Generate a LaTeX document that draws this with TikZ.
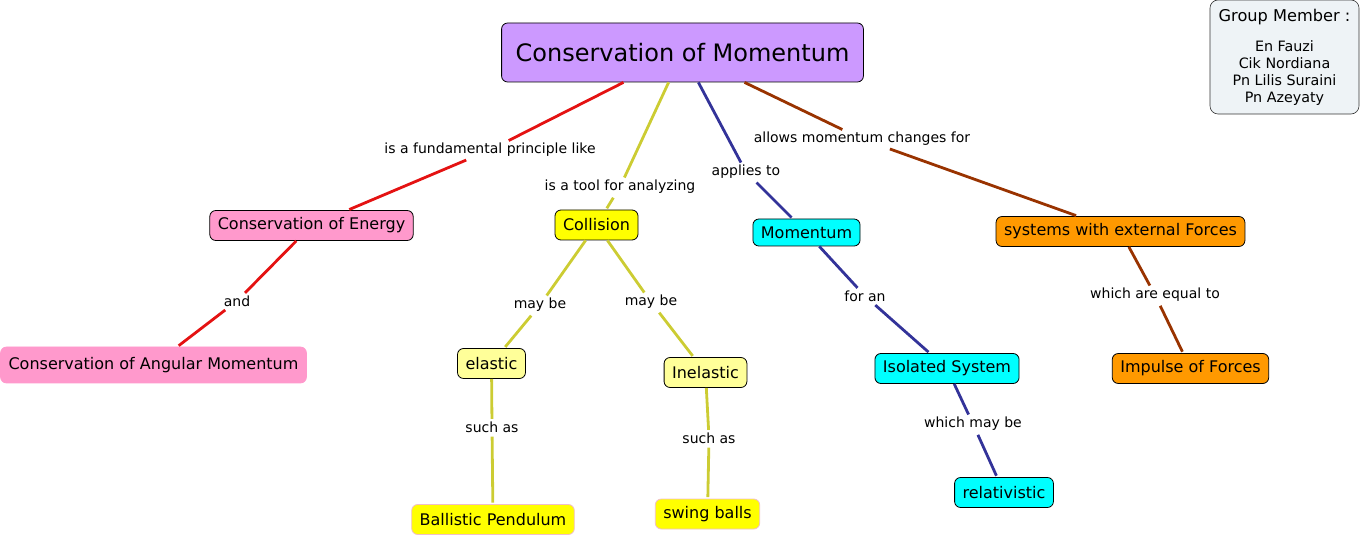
\documentclass[tikz,border=0pt]{standalone}
\usepackage{fontspec}
\setmainfont{DejaVu Sans}
\definecolor{mompurple}{RGB}{204, 153, 255}
\definecolor{energypink}{RGB}{255, 153, 204}
\definecolor{collyellow}{RGB}{255, 255, 0}
\definecolor{paleyellow}{RGB}{255, 255, 153}
\definecolor{momcyan}{RGB}{0, 255, 255}
\definecolor{forceorange}{RGB}{255, 153, 0}
\definecolor{groupgray}{RGB}{238, 243, 246}
\definecolor{linkred}{RGB}{228, 18, 18}
\definecolor{linkolive}{RGB}{204, 204, 51}
\definecolor{linkblue}{RGB}{51, 51, 153}
\definecolor{linkbrown}{RGB}{153, 51, 0}
\definecolor{softborder}{RGB}{240, 190, 200}
\usetikzlibrary{
    shapes.misc,
    positioning,
    calc
}
\tikzset{
    concept/.style={draw=black, line width=0.8pt, rounded corners=6pt,
        font=\fontsize{16}{19}\selectfont, inner xsep=8pt,
        minimum height=30pt},
    linklabel/.style={font=\fontsize{14}{17}\selectfont, inner sep=2.5pt,
        fill=white},
    link/.style={line width=2.8pt, shorten <=1.5pt, shorten >=1.5pt}
}

\begin{document}
\begin{tikzpicture}[x=1pt, y=-1pt]
            \useasboundingbox (0,0) rectangle (1361,537);

            % Main concept
            \node[concept, fill=mompurple, font=\fontsize{24}{28}\selectfont,
                inner xsep=14pt, minimum height=59pt] (cons) at (682.5,52.5)
                {Conservation of Momentum};

            % Group members
            \node[draw=black!80, line width=0.6pt, fill=groupgray, rounded corners=8pt,
                minimum width=149pt, minimum height=114pt, align=center,
                font=\fontsize{14.3}{17}\selectfont] (group) at (1284.5,57)
                {{\fontsize{16.2}{19}\selectfont Group Member :}\\[13pt]
                 En Fauzi\\ Cik Nordiana\\ Pn Lilis Suraini\\ Pn Azeyaty};

            % Energy branch
            \node[concept, fill=energypink] (energy) at (311.5,225.5)
                {Conservation of Energy};
            \node[concept, fill=energypink, draw=energypink, minimum height=36pt]
                (angular) at (153.5,365) {Conservation of Angular Momentum};
            \node[linklabel] (likelbl) at (490,150) {is a fundamental principle like};
            \node[linklabel] (andlbl) at (237,301) {and};
            \draw[link, linkred] (cons) -- (likelbl) -- (energy);
            \draw[link, linkred] (energy) -- (andlbl) -- (angular);

            % Collision branch
            \node[concept, fill=collyellow] (collision) at (596.5,225) {Collision};
            \node[concept, fill=paleyellow] (elastic) at (491.5,363.5) {elastic};
            \node[concept, fill=paleyellow] (inelastic) at (705.5,372.5) {Inelastic};
            \node[concept, fill=collyellow, draw=softborder] (pendulum) at (493,519.5)
                {Ballistic Pendulum};
            \node[concept, fill=collyellow, draw=softborder] (swing) at (707.5,514)
                {swing balls};
            \node[linklabel] (toollbl) at (620,187) {is a tool for analyzing};
            \node[linklabel] (maybeA) at (540,305) {may be};
            \node[linklabel] (maybeB) at (651,302) {may be};
            \node[linklabel] (suchA) at (492,427) {such as};
            \node[linklabel] (suchB) at (709,438) {such as};
            \draw[link, linkolive] (cons) -- (toollbl) -- (collision);
            \draw[link, linkolive] (collision) -- (maybeA) -- (elastic);
            \draw[link, linkolive] (collision) -- (maybeB) -- (inelastic);
            \draw[link, linkolive] (elastic) -- (suchA) -- (pendulum);
            \draw[link, linkolive] (inelastic) -- (suchB) -- (swing);

            % Momentum branch
            \node[concept, fill=momcyan, minimum height=27pt] (momentum) at (806.5,232.5)
                {Momentum};
            \node[concept, fill=momcyan] (isolated) at (947,368.5) {Isolated System};
            \node[concept, fill=momcyan] (relativ) at (1004,492.5) {relativistic};
            \node[linklabel] (applylbl) at (746,172) {applies to};
            \node[linklabel] (foranlbl) at (865,296) {for an};
            \node[linklabel] (whichlbl) at (973,424) {which may be};
            \draw[link, linkblue] (cons) -- (applylbl) -- (momentum);
            \draw[link, linkblue] (momentum) -- (foranlbl) -- (isolated);
            \draw[link, linkblue] (isolated) -- (whichlbl) -- (relativ);

            % External forces branch
            \node[concept, fill=forceorange] (external) at (1120.5,231.5)
                {systems with external Forces};
            \node[concept, fill=forceorange] (impulse) at (1190.5,368.5)
                {Impulse of Forces};
            \node[linklabel] (allowlbl) at (862,139) {allows momentum changes for};
            \node[linklabel] (equallbl) at (1155,295) {which are equal to};
            \draw[link, linkbrown] (cons) -- (allowlbl) -- (external);
            \draw[link, linkbrown] (external) -- (equallbl) -- (impulse);
        \end{tikzpicture}
\end{document}
